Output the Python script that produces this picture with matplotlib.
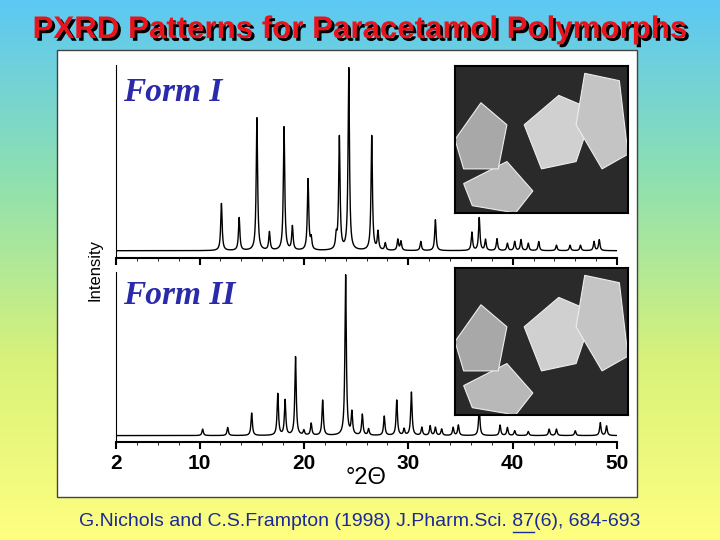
import numpy as np
import matplotlib
matplotlib.use("Agg")
import matplotlib.pyplot as plt
import matplotlib.patheffects as pe
from matplotlib.colors import LinearSegmentedColormap
from matplotlib.patches import Rectangle, Polygon

form1_pos = [12.1, 13.8, 15.5, 16.7, 18.1, 18.9, 20.4, 20.7, 23.1, 23.4, 24.3, 26.5, 27.1, 27.8, 29.0, 29.3,
             31.2, 32.6, 36.1, 36.8, 37.4, 38.5, 39.5, 40.2, 40.8, 41.5, 42.5, 44.2, 45.5, 46.5, 47.8, 48.3]
form1_int = [0.26, 0.18, 0.73, 0.10, 0.68, 0.13, 0.39, 0.06, 0.07, 0.62, 1.0, 0.63, 0.10, 0.04, 0.06, 0.05,
             0.05, 0.17, 0.10, 0.18, 0.06, 0.065, 0.04, 0.05, 0.06, 0.04, 0.05, 0.03, 0.03, 0.03, 0.05, 0.06]
form2_pos = [10.3, 12.7, 15.0, 17.5, 18.2, 19.2, 20.0, 20.7, 21.8, 24.0, 24.6, 25.6, 26.2, 27.7, 28.9, 29.6,
             30.3, 31.3, 32.1, 32.6, 33.2, 34.3, 34.8, 36.8, 38.8, 39.5, 40.2, 41.5, 43.5, 44.2, 46.0, 48.4, 49.0]
form2_int = [0.04, 0.05, 0.14, 0.26, 0.22, 0.49, 0.03, 0.075, 0.22, 1.0, 0.14, 0.13, 0.04, 0.12, 0.22, 0.04,
             0.27, 0.05, 0.06, 0.05, 0.04, 0.05, 0.065, 0.17, 0.065, 0.05, 0.03, 0.025, 0.04, 0.04, 0.03, 0.08, 0.06]
xticks = [2, 10, 20, 30, 40, 50]

def pattern(x, pos, inten, w=0.08):
    y = np.full_like(x, 0.01)
    for p, h in zip(pos, inten):
        y += h / (1 + ((x - p) / w) ** 2)
    return y

fig = plt.figure(figsize=(7.2, 5.4), dpi=100)
bg = fig.add_axes([0, 0, 1, 1]); bg.axis('off')
cmap = LinearSegmentedColormap.from_list('g', ['#5cc8f4', '#8fe0b0', '#d8f27a', '#ffff80'])
bg.imshow(np.linspace(0, 1, 256)[:, None], cmap=cmap, aspect='auto', extent=[0, 1, 0, 1])
bg.set_xlim(0, 1); bg.set_ylim(0, 1)
bg.add_patch(Rectangle((57/720, 1-497/540), 580/720, 447/540, facecolor='white', edgecolor='#444444', lw=1))
bg.text(0.5, 1-30/540, 'PXRD Patterns for Paracetamol Polymorphs', ha='center', va='center',
        fontsize=22.5, fontweight='bold', color='#e8141c', family='Liberation Sans',
        path_effects=[pe.SimplePatchShadow(offset=(2, -2), shadow_rgbFace='black', alpha=1), pe.Normal()])
cite = 'G.Nichols and C.S.Frampton (1998) J.Pharm.Sci. 87(6), 684-693'
tx = bg.text(0.5, 1-522/540, cite, ha='center', va='center', fontsize=14, color='#1a2a9a', family='Liberation Sans')
r = fig.canvas.get_renderer()
full = tx.get_window_extent(r)
pre = bg.text(0, 0, 'G.Nichols and C.S.Frampton (1998) J.Pharm.Sci. ', fontsize=14, family='Liberation Sans')
num = bg.text(0, 0, '87', fontsize=14, family='Liberation Sans')
w_pre = pre.get_window_extent(r).width; w_num = num.get_window_extent(r).width
pre.remove(); num.remove()
x0 = (full.x0 + w_pre) / 720
bg.plot([x0, x0 + w_num / 720], [1-532/540]*2, color='#1a2a9a', lw=1)
bg.text(95/720, 0.5, 'Intensity', rotation=90, ha='center', va='center', fontsize=12, family='Liberation Sans')
bg.text(366/720, 1-478/540, '°2Θ', ha='center', va='center', fontsize=17, family='Liberation Sans')

x = np.linspace(2, 50, 4000)
ax1 = fig.add_axes([116/720, 1-258/540, 501/720, 193/540])
ax2 = fig.add_axes([116/720, 1-442/540, 501/720, 170/540])
for ax, pos, inten, name in [(ax1, form1_pos, form1_int, 'Form I'), (ax2, form2_pos, form2_int, 'Form II')]:
    ax.plot(x, pattern(x, pos, inten), color='black', lw=1)
    ax.set_xlim(2, 50); ax.set_ylim(-0.03, 1.03)
    ax.set_yticks([])
    ax.set_xticks(xticks)
    ax.set_xticks(np.arange(2, 51, 2), minor=True)
    ax.tick_params(axis='x', direction='out', length=5, width=1.5)
    ax.tick_params(axis='x', which='minor', length=2)
    for s in ['top', 'right']:
        ax.spines[s].set_visible(False)
    ax.spines['bottom'].set_linewidth(1.5)
    ax.patch.set_alpha(0)
    ax.text(0.015, 0.86, name, transform=ax.transAxes, fontsize=24, fontstyle='italic', fontweight='bold',
            color='#2a2aaa', family='Liberation Serif', va='center')
ax1.set_xticklabels([])
ax2.set_xticklabels([str(v) for v in xticks], fontsize=15, fontweight='bold', family='Liberation Sans')

for (l, tp, rr, b) in [(455, 66, 628, 213), (455, 268, 628, 415)]:
    ia = fig.add_axes([l/720, 1-b/540, (rr-l)/720, (b-tp)/540])
    ia.set_facecolor('#2a2a2a'); ia.set_xticks([]); ia.set_yticks([])
    ia.set_xlim(0, 1); ia.set_ylim(0, 1)
    for pts, c in [([(0.05, 0.2), (0.3, 0.35), (0.45, 0.15), (0.35, 0.0), (0.1, 0.05)], '#b8b8b8'),
                   ([(0.4, 0.6), (0.6, 0.8), (0.8, 0.7), (0.7, 0.35), (0.5, 0.3)], '#d0d0d0'),
                   ([(0.0, 0.5), (0.15, 0.75), (0.3, 0.6), (0.25, 0.3), (0.05, 0.3)], '#a8a8a8'),
                   ([(0.75, 0.95), (0.95, 0.9), (1.0, 0.4), (0.85, 0.3), (0.7, 0.6)], '#c4c4c4')]:
        ia.add_patch(Polygon(pts, closed=True, facecolor=c, edgecolor='#eeeeee', lw=0.8))
    for s in ia.spines.values():
        s.set_color('black'); s.set_linewidth(1.5)

fig.savefig('out.png', dpi=100)
